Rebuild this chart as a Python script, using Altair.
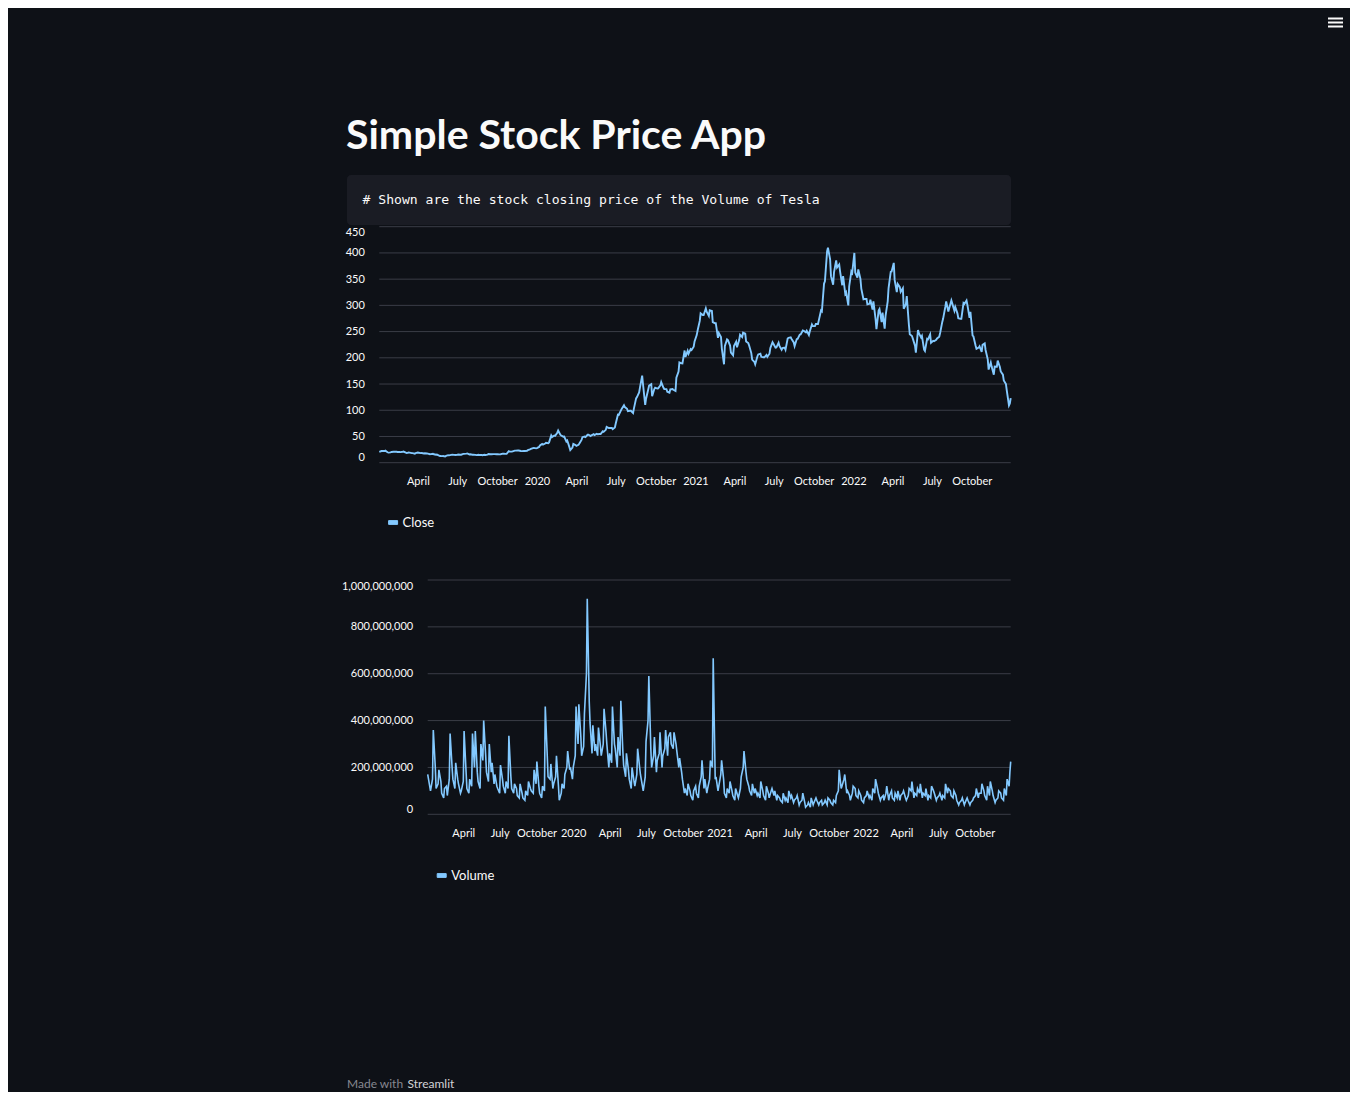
import altair as alt
import pandas as pd

# ---------------- data ----------------
# closes: one value per Wednesday (from 2019-01-02), one per Monday in between, and 2022-12-30
close_wed_2019 = [20.7, 22.3, 23.0, 19.2, 20.5, 20.9, 20.4, 20.2, 21.3, 18.4, 19.3, 18.3, 18.3,
                  19.0, 18.4, 18.1, 17.2, 16.3, 16.1, 15.5, 12.8, 12.7, 12.9, 14.0, 15.1, 14.7,
                  15.6, 15.3, 16.9, 17.6, 16.2, 15.3, 14.4, 14.7, 14.3, 14.7, 16.5, 16.2, 16.4,
                  16.2, 16.1, 17.1, 16.9, 21.1, 21.7, 23.1, 23.3, 22.1, 22.2, 23.9, 26.2, 28.3]
close_wed_2020 = [27.9, 32.8, 34.5, 38.0, 38.7, 48.9, 51.1, 61.2, 51.9, 49.9, 42.3, 24.1, 35.9,
                  32.1, 36.5, 48.7, 48.9, 53.3, 52.1, 52.7, 54.3, 54.7, 58.8, 68.3, 66.1, 64.0,
                  74.6, 91.0, 103.1, 106.1, 98.4, 99.0, 103.6, 125.2, 143.5, 149.1, 122.1, 147.0,
                  126.7, 143.0, 141.7, 153.8, 140.6, 135.3, 140.0, 139.0, 162.0, 191.3, 189.3,
                  201.5, 207.6, 215.0, 231.2]
close_wed_2021 = [252.0, 284.7, 281.5, 288.0, 290.7, 268.1, 266.0, 247.3, 217.7, 222.6, 233.7,
                  210.0, 222.6, 220.0, 244.0, 248.0, 231.3, 223.4, 196.5, 187.7, 206.4, 201.9,
                  201.0, 201.7, 218.8, 226.7, 219.7, 222.6, 218.5, 215.5, 238.1, 235.8, 222.3,
                  236.1, 244.7, 251.5, 251.6, 250.3, 260.4, 264.5, 271.8, 288.6, 345.7, 410.0,
                  355.7, 363.0, 372.3, 365.0, 356.0, 325.0, 336.0, 362.0]
close_wed_2022 = [362.7, 368.7, 332.0, 312.2, 301.9, 310.7, 307.5, 254.7, 293.0, 286.0, 280.0,
                  333.0, 364.6, 348.6, 340.8, 325.7, 293.6, 317.7, 244.7, 236.5, 210.0, 246.8,
                  241.9, 213.0, 235.0, 228.5, 231.7, 237.0, 247.4, 274.8, 307.4, 294.4, 303.8,
                  297.1, 275.6, 274.4, 302.6, 300.8, 287.8, 240.8, 217.2, 222.0, 224.6, 214.9,
                  177.6, 183.2, 183.2, 194.7, 174.0, 156.8, 137.6, 112.7]
close_mon_2019 = [22.2, 22.3, 19.9, 19.8, 20.9, 20.8, 20.3, 20.9, 19.4, 19.4, 18.2, 17.3, 19.3,
                  18.2, 17.7, 17.5, 16.1, 17.0, 15.2, 13.7, 12.6, 11.9, 14.3, 15.0, 14.9, 15.0,
                  15.3, 16.9, 17.3, 15.8, 15.2, 15.0, 15.0, 14.9, 15.0, 15.5, 16.2, 16.4, 16.0,
                  15.9, 17.2, 16.8, 21.9, 21.2, 23.0, 23.3, 22.4, 22.3, 22.6, 25.4, 27.9, 27.3]
close_mon_2020 = [30.1, 35.9, 36.5, 37.3, 52.0, 51.9, 57.2, 53.3, 49.6, 40.5, 29.7, 28.7, 33.5,
                  34.0, 43.4, 49.8, 53.3, 50.8, 54.4, 54.9, 54.6, 59.9, 62.7, 66.1, 66.4, 67.2,
                  91.4, 99.8, 109.5, 102.9, 99.0, 94.8, 122.6, 134.0, 166.1, 110.1, 139.4, 149.8,
                  140.4, 141.4, 147.4, 143.4, 140.4, 133.5, 140.4, 136.7, 173.9, 189.6, 213.9,
                  213.3, 216.6, 221.2, 243.3]
close_mon_2021 = [270.4, 281.5, 294.4, 279.9, 289.3, 266.0, 238.2, 239.5, 187.7, 235.0, 223.3,
                  204.7, 230.5, 233.8, 239.7, 246.0, 228.0, 209.0, 192.6, 202.5, 207.8, 201.0,
                  205.4, 207.8, 229.6, 219.4, 228.8, 215.2, 219.6, 236.6, 238.9, 229.3, 235.8,
                  244.4, 252.1, 248.6, 243.6, 263.6, 260.5, 264.5, 290.3, 341.6, 402.9, 387.6,
                  339.5, 385.6, 378.0, 338.3, 322.1, 300.0, 364.6, 399.9]
close_mon_2022 = [352.7, 350.6, 311.7, 312.2, 303.0, 291.9, 273.8, 290.1, 268.2, 255.5, 307.8,
                  363.9, 381.0, 325.3, 334.7, 332.7, 302.3, 262.4, 241.5, 223.3, 252.8, 238.9,
                  215.7, 236.1, 244.4, 232.3, 234.3, 240.1, 268.4, 297.1, 288.2, 309.3, 289.9,
                  284.8, 274.4, 304.4, 309.1, 276.0, 242.4, 222.9, 219.4, 211.3, 227.5, 197.1,
                  190.9, 167.9, 182.9, 182.5, 167.8, 149.9, 109.1]
close_last = [123.2]

# volume in millions: one value per Wednesday, one on the Monday in between, and 2022-12-30
volume_wed_2019_m = [170, 100, 360, 110, 190, 90, 110, 80, 345, 150, 220, 130, 100, 355, 110, 150,
                     345, 355, 140, 300, 400, 180, 300, 220, 170, 110, 210, 120, 140, 335, 110, 130,
                     80, 130, 70, 100, 140, 100, 190, 225, 90, 120, 460, 160, 215, 130, 250, 60,
                     130, 170, 270, 200]
volume_wed_2020_m = [200, 460, 470, 250, 430, 920, 390, 380, 300, 370, 250, 450, 300, 260, 460, 280,
                     330, 485, 210, 260, 150, 200, 120, 280, 170, 100, 310, 590, 200, 330, 230, 350,
                     250, 360, 330, 300, 350, 270, 240, 150, 110, 130, 80, 100, 90, 120, 230, 150,
                     110, 230, 666, 160, 120]
volume_wed_2021_m = [230, 90, 110, 140, 80, 110, 70, 160, 270, 150, 100, 130, 110, 90, 140, 80, 120,
                     70, 110, 100, 80, 60, 90, 70, 100, 80, 60, 80, 50, 90, 30, 50, 70, 50, 60, 50,
                     40, 60, 70, 50, 60, 80, 190, 120, 170, 100, 60, 120, 80, 100, 60, 70]
volume_wed_2022_m = [100, 80, 110, 150, 90, 70, 60, 120, 80, 70, 90, 100, 80, 100, 60, 110, 140, 90,
                     110, 130, 90, 110, 80, 120, 90, 70, 90, 80, 130, 110, 80, 100, 60, 50, 70, 50,
                     60, 50, 70, 110, 90, 130, 80, 120, 140, 80, 60, 100, 70, 110, 150, 180]
volume_mon_2019_m = [120, 150, 200, 130, 140, 70, 120, 150, 200, 110, 150, 90, 140, 180, 90, 120,
                     200, 180, 110, 230, 250, 140, 180, 130, 120, 90, 150, 90, 110, 160, 90, 110,
                     70, 90, 60, 80, 110, 90, 130, 120, 70, 100, 250, 150, 110, 160, 120, 90,
                     110, 200, 190, 150]
volume_mon_2020_m = [250, 300, 330, 290, 600, 480, 260, 270, 250, 290, 300, 350, 200, 220, 300, 200,
                     250, 270, 160, 190, 110, 140, 170, 200, 120, 160, 400, 280, 250, 180, 260, 200,
                     280, 250, 350, 280, 300, 200, 180, 90, 80, 100, 60, 120, 70, 160, 110, 90,
                     150, 200, 150, 100, 170]
volume_mon_2021_m = [150, 70, 90, 100, 60, 80, 110, 200, 180, 120, 80, 90, 80, 70, 100, 60, 90,
                     100, 80, 60, 70, 50, 60, 50, 70, 50, 70, 40, 60, 50, 40, 30, 40, 70, 40, 60,
                     50, 40, 60, 40, 50, 100, 110, 150, 90, 80, 90, 110, 70, 80, 50, 80]
volume_mon_2022_m = [70, 60, 90, 110, 60, 80, 90, 60, 100, 60, 70, 60, 90, 70, 80, 100, 70, 80,
                     90, 70, 80, 60, 70, 100, 60, 80, 60, 70, 90, 100, 70, 80, 40, 60, 40, 70,
                     40, 60, 80, 70, 90, 100, 60, 80, 100, 50, 70, 90, 60, 80, 120]
volume_last_m = [225]

close_ticks = [0, 50, 100, 150, 200, 250, 300, 350, 400, 450]
volume_ticks = [0, 200_000_000, 400_000_000, 600_000_000, 800_000_000, 1_000_000_000]

# ---------------- tables ----------------
wed = pd.date_range("2019-01-02", "2022-12-28", freq="7D")
mon = wed[:-1] + pd.Timedelta(days=5)
all_dates = wed.strftime("%Y-%m-%d").tolist() + mon.strftime("%Y-%m-%d").tolist() + ["2022-12-30"]

close_all = (close_wed_2019 + close_wed_2020 + close_wed_2021 + close_wed_2022
             + close_mon_2019 + close_mon_2020 + close_mon_2021 + close_mon_2022 + close_last)
close_df = pd.DataFrame({"date": all_dates, "value": close_all,
                         "series": "Close"}).sort_values("date")

vol_all_m = (volume_wed_2019_m + volume_wed_2020_m + volume_wed_2021_m + volume_wed_2022_m
             + volume_mon_2019_m + volume_mon_2020_m + volume_mon_2021_m + volume_mon_2022_m
             + volume_last_m)
vol_df = pd.DataFrame({"date": all_dates, "value": [v * 1_000_000 for v in vol_all_m],
                       "series": "Volume"}).sort_values("date")

# ---------------- style / layout ----------------
W, H = 1342, 1084
BG = "#0e1117"
TEXT = "#fafafa"
GRID = "#3a3d47"
LINE = "#83c9ff"
CODE_BG = "#1a1c24"
FONT = "Lato"
MONO = "DejaVu Sans Mono"

one = pd.DataFrame({"k": [0]})

title = alt.Chart(one).mark_text(
    text="Simple Stock Price App", font=FONT, fontSize=41, fontWeight="bold",
    color=TEXT, align="left", baseline="alphabetic"
).encode(x=alt.value(338), y=alt.value(141))

code_box = alt.Chart(one).mark_rect(color=CODE_BG, cornerRadius=4).encode(
    x=alt.value(339), x2=alt.value(1003), y=alt.value(167), y2=alt.value(217))

code_text = alt.Chart(one).mark_text(
    text="# Shown are the stock closing price of the Volume of Tesla", font=MONO,
    fontSize=13.1, color=TEXT, align="left", baseline="alphabetic"
).encode(x=alt.value(354.5), y=alt.value(196))

footer_a = alt.Chart(one).mark_text(
    text="Made with", font=FONT, fontSize=12, color="#868891", align="left",
    baseline="alphabetic").encode(x=alt.value(339), y=alt.value(1080))
footer_b = alt.Chart(one).mark_text(
    text="Streamlit", font=FONT, fontSize=12, color="#d2d3d6", align="left",
    baseline="alphabetic").encode(x=alt.value(399.5), y=alt.value(1080))

ham = [alt.Chart(one).mark_rule(color=TEXT, strokeWidth=2).encode(
    x=alt.value(1320), x2=alt.value(1335), y=alt.value(yy)) for yy in (10.5, 14.5, 18.5)]


def panel(df, ticks, fmt, x0, x1, y0, y1, legx, legy, sw):
    ys = alt.Scale(domain=[ticks[0], ticks[-1]], range=[y0, y1], nice=False, zero=False)
    xs = alt.Scale(range=[x0, x1], nice=False)
    yaxis = alt.Axis(orient="left", offset=-x0, values=ticks, format=fmt, labelFlush=True,
                     labelPadding=15, labelOverlap=False, title=None)
    xaxis = alt.Axis(orient="bottom", offset=y0 - H, tickCount={"interval": "month", "step": 3},
                     labelPadding=13, labelOverlap=False, title=None)
    grid = alt.Chart(pd.DataFrame({"tick": ticks})).mark_rule(color=GRID, strokeWidth=1).encode(
        y=alt.Y("tick:Q", scale=ys, axis=yaxis, title=None),
        x=alt.value(x0), x2=alt.value(x1))
    line = alt.Chart(df).mark_line(strokeWidth=sw).encode(
        x=alt.X("date:T", scale=xs, axis=xaxis, title=None),
        y=alt.Y("value:Q", scale=ys, axis=yaxis, title=None),
        color=alt.Color("series:N", scale=alt.Scale(range=[LINE]), legend=alt.Legend(
            orient="none", legendX=legx, legendY=legy, title=None, padding=0,
            labelFont=FONT, labelFontSize=13, labelColor=TEXT, labelOffset=3,
            symbolType="M-1,-0.42L1,-0.42L1,0.42L-1,0.42Z", symbolSize=81,
            symbolFillColor=LINE, symbolStrokeColor=LINE, symbolStrokeWidth=1)))
    return alt.layer(grid, line)


close_panel = panel(close_df, close_ticks, "d", 371.3, 1002.7, 454.7, 218.7, 378.6, 508, 1.9)
vol_panel = panel(vol_df, volume_ticks, ",.0f", 419.7, 1002.7, 806.3, 572.0, 427.2, 861, 1.6)

chart = alt.layer(
    code_box, title, code_text, footer_a, footer_b, *ham, close_panel, vol_panel
).resolve_scale(
    x="independent", y="independent", color="independent"
).properties(
    width=W, height=H, background=BG, padding=0,
    autosize=alt.AutoSizeParams(type="none")
).configure_view(stroke=None).configure_axis(
    labelFont=FONT, labelFontSize=11, labelColor=TEXT, domain=False, ticks=False,
    tickSize=0, grid=False
)

chart.save("out.html", embed_options={"renderer": "svg", "actions": False})
